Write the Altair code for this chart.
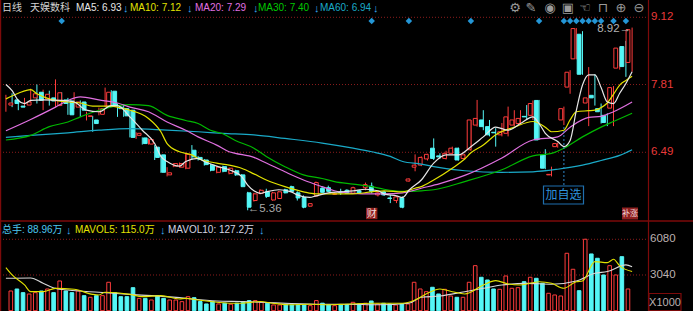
import altair as alt
import pandas as pd

# ---------------- data ----------------
opens = [7.41,7.51,7.39,7.41,7.55,7.66,7.53,7.55,7.40,7.51,
         7.49,7.37,7.47,7.19,7.12,7.23,7.37,7.68,7.37,7.34,
         7.31,6.82,6.77,6.65,6.59,6.44,6.05,6.22,6.20,6.18,
         6.53,6.39,6.34,6.24,6.10,6.21,6.08,6.13,6.05,5.70,
         5.55,5.69,5.72,5.56,5.59,5.76,5.82,5.70,5.61,5.44,
         5.64,5.79,5.80,5.67,5.72,5.75,5.69,5.74,5.80,5.83,
         5.66,5.72,5.60,5.55,5.60,5.93,6.20,6.24,6.36,6.57,
         6.42,6.37,6.47,6.57,6.37,6.54,7.02,7.12,6.99,6.88,
         6.83,6.86,7.02,7.05,7.19,7.21,7.50,6.44,6.05,6.60,
         7.12,7.76,8.31,8.79,7.45,7.60,7.34,7.21,7.35,8.13,
         8.55,8.24]
highs = [7.61,7.64,7.50,7.55,7.73,7.81,7.71,7.69,7.91,7.66,
         7.55,7.66,7.50,7.28,7.20,7.36,7.75,7.70,7.44,7.42,
         7.31,6.88,6.78,6.76,6.63,6.44,6.20,6.28,6.29,6.48,
         6.63,6.42,6.36,6.26,6.22,6.23,6.19,6.15,6.06,5.72,
         5.70,5.77,5.78,5.72,5.74,5.78,5.84,5.73,5.65,5.50,
         5.92,5.82,5.84,5.71,5.78,5.77,5.82,5.76,5.90,5.90,
         5.74,5.74,5.66,5.64,5.63,5.98,6.45,6.41,6.46,6.76,
         6.47,6.52,6.60,6.58,6.46,7.12,7.51,7.31,7.12,6.96,
         7.06,7.38,7.31,7.31,7.41,7.50,7.51,6.55,6.21,6.68,
         7.38,8.09,8.91,8.85,8.15,8.01,7.44,7.25,7.78,8.55,
         8.66,8.92]
lows = [7.28,7.37,7.31,7.37,7.47,7.44,7.31,7.40,7.37,7.40,
        7.22,7.34,7.18,7.11,6.89,7.21,7.37,7.37,7.18,7.18,
        6.78,6.75,6.64,6.64,6.34,6.09,6.02,6.20,6.19,6.16,
        6.34,6.33,6.23,6.12,6.08,6.10,6.06,6.03,5.82,5.36,
        5.53,5.67,5.60,5.55,5.58,5.69,5.72,5.55,5.40,5.43,
        5.62,5.70,5.72,5.66,5.66,5.68,5.68,5.69,5.75,5.69,
        5.63,5.64,5.50,5.50,5.40,5.92,6.12,6.22,6.33,6.34,
        6.36,6.35,6.45,6.33,6.35,6.52,6.99,6.92,6.80,6.60,
        6.80,6.80,7.00,7.03,7.12,7.12,6.73,6.16,6.02,6.58,
        7.02,7.63,8.30,8.00,7.00,7.40,7.05,7.00,7.00,8.10,
        7.96,8.06]
closes = [7.45,7.44,7.37,7.47,7.63,7.50,7.62,7.49,7.65,7.44,
          7.22,7.47,7.31,7.20,7.05,7.34,7.66,7.39,7.34,7.20,
          6.78,6.86,6.66,6.74,6.39,6.10,6.09,6.27,6.27,6.45,
          6.40,6.35,6.25,6.14,6.20,6.12,6.18,6.05,5.82,5.42,
          5.68,5.75,5.63,5.70,5.72,5.70,5.73,5.60,5.42,5.49,
          5.90,5.71,5.73,5.69,5.70,5.69,5.80,5.70,5.86,5.73,
          5.70,5.66,5.59,5.62,5.42,5.97,6.24,6.39,6.45,6.37,
          6.40,6.47,6.57,6.34,6.44,7.12,7.15,6.99,6.83,6.87,
          6.89,7.18,7.12,7.15,7.18,7.44,6.73,6.18,6.06,6.66,
          7.34,8.05,8.90,8.01,7.55,7.55,7.28,7.07,7.75,8.52,
          8.16,8.88]
volumes = [1678,1848,1536,1420,1536,1678,1848,1536,2530,1678,
           1536,1678,1280,1140,1280,1280,2420,1536,1195,1195,
           1960,1050,1050,910,1280,1050,910,910,770,1195,
           1110,780,575,780,575,640,550,640,780,860,
           860,715,640,490,490,550,490,490,490,430,
           860,640,490,430,490,530,713,571,630,826,
           571,630,571,486,571,571,2420,1849,1619,1994,
           1423,1823,1252,1142,1142,2420,3834,2846,2616,1849,
           1823,2956,1908,1960,2471,2846,2760,2334,1482,1338,
           1252,4890,3527,1704,6083,4831,4464,3042,3834,3042,
           4600,1849]

ma5_idx = [0,1,2,3,4,6,9,11,13,15,17,18,20,22,24,25,26,28,29,31,32,34,36,38,39,40,41,42,44,46,47,49,50,52,54,56,58,60,61,63,64,65,67,69,71,73,75,77,79,81,83,85,86,87,89,90,91,92,93,94,95,96,97,98,99,100,101]
ma5_val = [7.81,7.69,7.50,7.44,7.50,7.51,7.50,7.47,7.31,7.28,7.40,7.40,7.18,6.92,6.66,6.41,6.31,6.22,6.31,6.37,6.31,6.22,6.15,6.02,5.85,5.74,5.69,5.72,5.76,5.72,5.66,5.61,5.64,5.70,5.72,5.74,5.77,5.74,5.68,5.64,5.61,5.75,5.95,6.28,6.44,6.44,6.60,6.79,6.98,6.92,7.05,7.18,7.05,6.86,6.70,6.60,6.72,7.30,7.80,8.00,8.00,7.75,7.47,7.44,7.64,7.83,8.06]
ma10_idx = [0,2,4,5,7,10,12,14,17,19,20,23,25,26,28,30,31,34,36,38,40,42,45,48,50,53,56,59,61,64,66,67,69,72,74,75,77,79,82,85,87,88,90,91,92,94,95,96,97,98,99,100,101]
ma10_val = [7.53,7.64,7.71,7.63,7.53,7.47,7.45,7.39,7.39,7.34,7.31,7.15,6.89,6.66,6.50,6.44,6.37,6.28,6.24,6.18,6.07,5.95,5.82,5.72,5.68,5.68,5.68,5.72,5.74,5.72,5.79,5.82,5.95,6.18,6.36,6.48,6.63,6.83,6.98,7.09,6.98,6.89,6.92,7.12,7.28,7.30,7.31,7.36,7.45,7.62,7.80,7.89,7.97]
ma20_idx = [0,4,8,10,12,15,18,20,23,26,29,31,34,36,37,40,42,45,48,51,53,56,59,61,64,67,70,74,80,85,89,91,94,96,98,101]
ma20_val = [6.91,7.13,7.37,7.50,7.57,7.51,7.45,7.37,7.28,7.08,6.92,6.79,6.63,6.50,6.47,6.39,6.28,6.11,5.95,5.82,5.74,5.69,5.68,5.68,5.70,5.79,5.88,6.04,6.38,6.73,6.79,6.98,7.17,7.19,7.28,7.47]
ma30_idx = [0,4,7,10,12,15,18,20,23,26,29,31,33,35,37,40,42,45,48,51,53,56,59,61,64,67,69,74,80,85,88,90,93,96,98,101]
ma30_val = [6.73,6.82,6.99,7.08,7.18,7.31,7.40,7.42,7.40,7.21,7.11,7.05,6.92,6.85,6.72,6.57,6.41,6.21,6.05,5.98,5.92,5.87,5.82,5.77,5.73,5.74,5.76,5.92,6.15,6.42,6.47,6.57,6.79,6.98,7.09,7.25]
ma60_idx = [0,4,10,15,20,26,31,35,40,45,51,56,59,62,64,67,69,74,80,85,89,93,96,99,101]
ma60_val = [6.78,6.82,6.87,6.92,6.95,6.92,6.89,6.86,6.83,6.76,6.67,6.57,6.50,6.41,6.31,6.26,6.21,6.13,6.10,6.11,6.16,6.24,6.33,6.43,6.54]

mavol5_idx = [0,1,3,4,6,8,11,14,15,16,20,22,25,28,29,31,33,36,38,41,43,46,49,52,54,59,64,66,68,70,72,74,77,79,81,83,86,88,90,92,93,95,97,98,99,101]
mavol5_val = [3665,3040,2190,1620,1620,1900,1820,1390,1340,1565,1390,1195,1280,1000,1050,910,780,640,640,780,640,500,550,500,540,630,630,910,1480,1850,1620,1420,2190,2560,2280,2190,2470,2330,1910,2470,2530,4180,4090,4380,3810,3330]
mavol10_idx = [0,4,6,8,10,15,20,28,30,34,38,42,46,51,55,60,65,67,70,74,77,80,84,88,92,95,97,100,101]
mavol10_val = [2760,2790,2333,1900,1760,1565,1390,1110,1000,830,780,700,610,550,550,500,630,1140,1250,1620,1910,2190,2330,2250,2530,3190,3330,3900,3750]

price_ticks = [9.12, 7.81, 6.49]
price_labels = ["9.12", "7.81", "6.49"]
vol_ticks = [6080, 3040]
vol_labels = ["6080", "3040"]
marker_idx = [9, 59, 65, 75, 86, 90, 91, 92, 93, 94, 95, 96, 98, 100]

# ---------------- style ----------------
RED = "#ff3c3c"
CYAN = "#54f6f6"
BG = "#000000"
GRID = "#8c1c1c"
FRAME = "#7c0a0a"
AXRED = "#e83a3a"
C5, C10, C20, C30, C60 = "#e6e6e6", "#e2e200", "#e070e0", "#00b800", "#1aaac8"
ARROW = "#38a8e8"
LAT = "Liberation Sans, Noto Sans CJK SC, sans-serif"
CJK = "Noto Sans CJK SC, Liberation Sans, sans-serif"

W, H = 693, 311
PRICE_DOM = [3.398, 9.457]
VOL_DOM = [-26, 26456]

X = alt.X("i:Q", scale=alt.Scale(domain=[-0.952, 110.823], nice=False, zero=False), axis=None)


def py(f):
    return alt.Y(f + ":Q", scale=alt.Scale(domain=PRICE_DOM, nice=False, zero=False), axis=None)


def vy(f):
    return alt.Y(f + ":Q", scale=alt.Scale(domain=VOL_DOM, nice=False, zero=False), axis=None)


n = len(closes)
df = pd.DataFrame({"i": list(range(n)), "o": opens, "h": highs, "l": lows, "c": closes, "v": volumes})
df["dir"] = ["up" if c >= o else "down" for o, c in zip(opens, closes)]
df["top"] = df[["o", "c"]].max(axis=1)
df["bot"] = df[["o", "c"]].min(axis=1)
df_up = df[df["dir"] == "up"]
df_dn = df[df["dir"] == "down"]
dircol = alt.Color("dir:N", scale=alt.Scale(domain=["up", "down"], range=[RED, CYAN]), legend=None)

layers = []
one = pd.DataFrame({"a": [0]})

# grid lines
layers.append(alt.Chart(pd.DataFrame({"p": price_ticks})).mark_rule(color=GRID, strokeDash=[1, 2], strokeWidth=1)
              .encode(y=py("p"), x=alt.value(0), x2=alt.value(648)))
layers.append(alt.Chart(pd.DataFrame({"p": vol_ticks})).mark_rule(color=GRID, strokeDash=[1, 2], strokeWidth=1)
              .encode(y=vy("p"), x=alt.value(0), x2=alt.value(648)))
# frame
layers.append(alt.Chart(one).mark_rule(color=FRAME, strokeWidth=1.2).encode(x=alt.value(648.5), y=alt.value(0), y2=alt.value(H)))
layers.append(alt.Chart(one).mark_rule(color=FRAME, strokeWidth=1.2).encode(x=alt.value(0.6), y=alt.value(0), y2=alt.value(H)))
layers.append(alt.Chart(one).mark_rule(color=FRAME, strokeWidth=1.5).encode(x=alt.value(0), x2=alt.value(W), y=alt.value(221)))

# axis labels
layers.append(alt.Chart(pd.DataFrame({"p": price_ticks, "t": price_labels}))
              .mark_text(align="left", baseline="middle", fontSize=11.5, font=LAT, color=AXRED)
              .encode(x=alt.value(651), y=py("p"), text="t:N"))
layers.append(alt.Chart(pd.DataFrame({"p": vol_ticks, "t": vol_labels}))
              .mark_text(align="left", baseline="middle", fontSize=11.5, font=LAT, color="#bcb0b0")
              .encode(x=alt.value(650), y=vy("p"), text="t:N"))
layers.append(alt.Chart(one).mark_rect(fill=BG, stroke=FRAME, strokeWidth=1.2)
              .encode(x=alt.value(649), x2=alt.value(681), y=alt.value(293.5), y2=alt.value(310.5)))
layers.append(alt.Chart(pd.DataFrame({"t": ["X1000"]}))
              .mark_text(align="center", baseline="middle", fontSize=11, font=LAT, color="#bcb0b0")
              .encode(x=alt.value(665), y=alt.value(302.5), text="t:N"))

# candles
layers.append(alt.Chart(df).mark_rule(strokeWidth=1).encode(x=X, y=py("l"), y2="h", color=dircol))
layers.append(alt.Chart(df_up).mark_bar(size=3.8, fill=BG, stroke=RED, strokeWidth=1)
              .encode(x=X, y=py("top"), y2="bot"))
layers.append(alt.Chart(df_dn).mark_bar(size=3.8, fill=CYAN, stroke=CYAN, strokeWidth=1)
              .encode(x=X, y=py("top"), y2="bot"))

# volume bars
layers.append(alt.Chart(df_up).mark_bar(size=3.6, fill=BG, stroke=RED, strokeWidth=1)
              .encode(x=X, y=vy("v"), y2=alt.datum(0)))
layers.append(alt.Chart(df_dn).mark_bar(size=3.6, fill=CYAN, stroke=CYAN, strokeWidth=1)
              .encode(x=X, y=vy("v"), y2=alt.datum(0)))

# moving averages
for idx, val, col in [(ma60_idx, ma60_val, C60), (ma30_idx, ma30_val, C30), (ma20_idx, ma20_val, C20),
                      (ma10_idx, ma10_val, C10), (ma5_idx, ma5_val, C5)]:
    layers.append(alt.Chart(pd.DataFrame({"i": idx, "m": val}))
                  .mark_line(color=col, strokeWidth=1.2, interpolate="monotone")
                  .encode(x=X, y=py("m")))
for idx, val, col in [(mavol10_idx, mavol10_val, "#d8d8d8"), (mavol5_idx, mavol5_val, C10)]:
    layers.append(alt.Chart(pd.DataFrame({"i": idx, "m": val}))
                  .mark_line(color=col, strokeWidth=1.1, interpolate="monotone")
                  .encode(x=X, y=vy("m")))

# event markers
layers.append(alt.Chart(pd.DataFrame({"i": marker_idx}))
              .mark_point(shape="diamond", filled=True, size=42, color="#2496d6", opacity=1)
              .encode(x=X, y=alt.value(21)))

# low / high labels
imin = lows.index(min(lows))
imax = n - 1 - highs[::-1].index(max(highs))
layers.append(alt.Chart(pd.DataFrame({"i": [imin], "p": [lows[imin]], "t": ["\u2190" + f"{lows[imin]:.2f}"]}))
              .mark_text(align="left", baseline="middle", fontSize=11.5, font=LAT, color="#a8a8a8", dy=-1)
              .encode(x=X, y=py("p"), text="t:N"))
layers.append(alt.Chart(pd.DataFrame({"i": [imax], "p": [highs[imax]], "t": [f"{highs[imax]:.2f}" + "\u2192"]}))
              .mark_text(align="right", baseline="middle", fontSize=11.5, font=LAT, color="#b4b4b4", dx=-1, dy=1)
              .encode(x=X, y=py("p"), text="t:N"))

# "财" tag
layers.append(alt.Chart(pd.DataFrame({"i": [59]})).mark_point(shape="square", filled=True, size=130, color="#8e1f1f", opacity=1)
              .encode(x=X, y=alt.value(213.5)))
layers.append(alt.Chart(pd.DataFrame({"i": [59], "t": ["财"]}))
              .mark_text(align="center", baseline="middle", fontSize=10, font=CJK, color="#f4dcdc")
              .encode(x=X, y=alt.value(213.5), text="t:N"))
# "补涨" tag
layers.append(alt.Chart(one).mark_rect(fill="#8e1f1f")
              .encode(x=alt.value(622), x2=alt.value(638), y=alt.value(207.5), y2=alt.value(219.5)))
layers.append(alt.Chart(pd.DataFrame({"t": ["补涨"]}))
              .mark_text(align="center", baseline="middle", fontSize=8, font=CJK, color="#f4dcdc")
              .encode(x=alt.value(630), y=alt.value(213.5), text="t:N"))

# 加自选 button with dotted guide
layers.append(alt.Chart(pd.DataFrame({"i": [90]})).mark_rule(color="#2f86c8", strokeDash=[2, 2], strokeWidth=1)
              .encode(x=X, y=alt.value(127), y2=alt.value(186)))
layers.append(alt.Chart(one).mark_rect(fill=BG, stroke="#1f6fae", strokeWidth=1.2)
              .encode(x=alt.value(543.5), x2=alt.value(583.5), y=alt.value(186), y2=alt.value(204)))
layers.append(alt.Chart(pd.DataFrame({"t": ["加自选"]}))
              .mark_text(align="center", baseline="middle", fontSize=12, font=CJK, color="#2f93dc")
              .encode(x=alt.value(563.5), y=alt.value(195), text="t:N"))

# header texts
hdr = pd.DataFrame([
    ("日线", 2, 8, "#d4d4d4"), ("天娱数科", 30, 8, "#d4d4d4"),
    ("MA5: 6.93", 76, 8, C5), ("MA10: 7.12", 130, 8, C10), ("MA20: 7.29", 195, 8, C20),
    ("MA30: 7.40", 258, 8, "#00c800"), ("MA60: 6.94", 320, 8, C60),
    ("总手: 88.96万", 2, 230, "#4cc6ee"), ("MAVOL5: 115.0万", 75, 230, C10),
    ("MAVOL10: 127.2万", 168, 230, "#d4d4e0"),
], columns=["t", "x", "y", "col"])
layers.append(alt.Chart(hdr).mark_text(align="left", baseline="middle", fontSize=10, font=LAT)
              .encode(x=alt.X("x:Q", scale=None), y=alt.Y("y:Q", scale=None), text="t:N",
                      color=alt.Color("col:N", scale=None)))
arr = pd.DataFrame({"x": [123, 187, 253, 314, 373, 66, 160, 259], "y": [9, 9, 9, 9, 9, 231, 231, 231]})
layers.append(alt.Chart(arr).mark_text(align="left", baseline="middle", fontSize=11, font=LAT, color=ARROW, text="\u2193")
              .encode(x=alt.X("x:Q", scale=None), y=alt.Y("y:Q", scale=None)))

# toolbar icons
icons = pd.DataFrame({"t": ["\u2699", "\u270e", "\u25c9", "\u25a3", "\u261c", "\u2293", "\u2295", "\u2296"],
                      "x": [515, 531, 550, 568, 585, 603, 621, 639]})
layers.append(alt.Chart(icons).mark_text(align="center", baseline="middle", fontSize=13, font="DejaVu Sans", color="#9a9a9a")
              .encode(x=alt.X("x:Q", scale=None), y=alt.value(8), text="t:N"))

chart = (alt.layer(*layers)
         .resolve_scale(x="independent", y="independent", color="independent")
         .properties(width=W, height=H, padding=0, background=BG,
                     autosize=alt.AutoSizeParams(type="none"))
         .configure_view(strokeWidth=0, fill=BG))

chart.save("out.html", embed_options={"renderer": "svg", "actions": False})
